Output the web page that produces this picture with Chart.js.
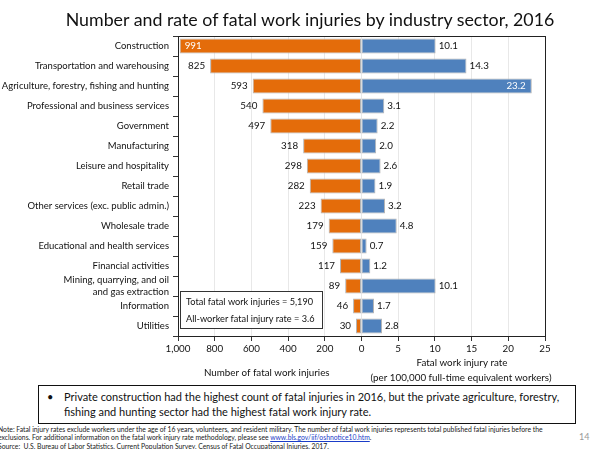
<!DOCTYPE html>
<html>
<head>
<meta charset="utf-8">
<script src="https://cdn.jsdelivr.net/npm/chart.js@4"></script>
<style>
  html, body { margin: 0; padding: 0; background: #fff; }
  body { width: 600px; height: 449px; position: relative; overflow: hidden; font-family: Lato, "Open Sans", sans-serif; color: #111; }
  #wrap { position: absolute; left: 0; top: 0; width: 600px; height: 384px; }
  #title { position: absolute; left: 0; width: 620px; top: 8px; text-align: center; font-size: 17.8px; color: #111; white-space: nowrap; }
  #note { position: absolute; left: 38px; top: 385px; width: 538px; height: 39px; border: 1.5px solid #111; box-sizing: border-box; font-size: 11px; line-height: 15px; padding: 3px 0 0 25px; }
  #note .dot { position: absolute; left: 8px; top: 3px; }
  #foot { position: absolute; left: -2px; top: 425px; font-size: 6.8px; line-height: 8.4px; color: #222; white-space: nowrap; }
  #foot a { color: #1a3cc8; text-decoration: underline; }
  #page { position: absolute; left: 579px; top: 431px; font-size: 9px; color: #999; }
</style>
</head>
<body>
<div id="wrap"><canvas id="chart"></canvas></div>
<div id="title">Number and rate of fatal work injuries by industry sector, 2016</div>
<div id="note"><span class="dot">•</span>Private construction had the highest count of fatal injuries in 2016, but the private agriculture, forestry, fishing and hunting sector had the highest fatal work injury rate.</div>
<div id="foot">Note: Fatal injury rates exclude workers under the age of 16 years, volunteers, and resident military. The number of fatal work injuries represents total published fatal injuries before the<br>exclusions. For additional information on the fatal work injury rate methodology, please see <a>www.bls.gov/iif/oshnotice10.htm</a>.<br>Source:&nbsp; U.S. Bureau of Labor Statistics, Current Population Survey, Census of Fatal Occupational Injuries, 2017.</div>
<div id="page">14</div>
<script>
var sectors = [
	'Construction',
	'Transportation and warehousing',
	'Agriculture, forestry, fishing and hunting',
	'Professional and business services',
	'Government',
	'Manufacturing',
	'Leisure and hospitality',
	'Retail trade',
	'Other services (exc. public admin.)',
	'Wholesale trade',
	'Educational and health services',
	'Financial activities',
	['Mining, quarrying, and oil', 'and gas extraction'],
	'Information',
	'Utilities'
];
var fatalCounts = [991, 825, 593, 540, 497, 318, 298, 282, 223, 179, 159, 117, 89, 46, 30];
var injuryRates = [10.1, 14.3, 23.2, 3.1, 2.2, 2.0, 2.6, 1.9, 3.2, 4.8, 0.7, 1.2, 10.1, 1.7, 2.8];
var totalFatal = '5,190';
var allWorkerRate = 3.6;

var FONT = 'Lato, "Open Sans", sans-serif';
var orange = '#E46C0A';
var blue = '#4F81BD';

// numbers next to the bars, box with totals, axis captions, frame
var extras = {
	id: 'extras',
	afterDatasetsDraw: function(chart) {
		var ctx = chart.ctx;
		var area = chart.chartArea;
		ctx.save();
		ctx.font = '9.8px ' + FONT;
		ctx.textBaseline = 'middle';

		chart.getDatasetMeta(0).data.forEach(function(bar, i) {
			var left = Math.min(bar.x, bar.base);
			if (i == 0) {
				ctx.fillStyle = '#fff';
				ctx.textAlign = 'left';
				ctx.fillText(fatalCounts[i], left + 5, bar.y);
			} else {
				ctx.fillStyle = '#111';
				ctx.textAlign = 'right';
				ctx.fillText(fatalCounts[i], left - 5, bar.y);
			}
		});
		chart.getDatasetMeta(1).data.forEach(function(bar, i) {
			var right = Math.max(bar.x, bar.base);
			var txt = injuryRates[i].toFixed(1);
			if (injuryRates[i] > 20) {
				ctx.fillStyle = '#fff';
				ctx.textAlign = 'right';
				ctx.fillText(txt, right - 6, bar.y);
			} else {
				ctx.fillStyle = '#111';
				ctx.textAlign = 'left';
				ctx.fillText(txt, right + 3, bar.y);
			}
		});

		// frame round the plot
		ctx.strokeStyle = '#222';
		ctx.lineWidth = 1;
		ctx.strokeRect(area.left + 0.5, area.top + 0.5, area.right - area.left, area.bottom - area.top);

		// totals box
		var bx = area.left + 2, by = area.bottom - 45;
		ctx.fillStyle = '#fff';
		ctx.fillRect(bx, by, 142, 37);
		ctx.strokeStyle = '#333';
		ctx.strokeRect(bx + 0.5, by + 0.5, 142, 37);
		ctx.fillStyle = '#111';
		ctx.textAlign = 'left';
		ctx.font = '9.2px ' + FONT;
		ctx.fillText('Total fatal work injuries = ' + totalFatal, bx + 6, by + 11);
		ctx.fillText('All-worker fatal injury rate = ' + allWorkerRate, bx + 6, by + 28);

		// axis captions
		ctx.font = '9.8px ' + FONT;
		var zero = chart.scales.x.getPixelForValue(0);
		ctx.textAlign = 'center';
		ctx.fillText('Number of fatal work injuries', (area.left + zero) / 2 - 3, area.bottom + 37);
		ctx.fillText('Fatal work injury rate', 462, area.bottom + 27);
		ctx.fillText('(per 100,000 full-time equivalent workers)', 461, area.bottom + 42);
		ctx.restore();
	}
};

var ctx = document.getElementById('chart').getContext('2d');

var chart = new Chart(ctx, {
	type: 'bar',
	data: {
		labels: sectors,
		datasets: [{
			label: 'Number of fatal work injuries',
			data: fatalCounts.map(function(v) { return -v; }),
			xAxisID: 'x',
			backgroundColor: orange,
			borderColor: '#b4b4b4',
			borderWidth: 1,
			borderSkipped: false,
			grouped: false,
			categoryPercentage: 0.8,
			barPercentage: 0.95
		}, {
			label: 'Fatal work injury rate',
			data: injuryRates,
			xAxisID: 'xr',
			backgroundColor: blue,
			borderColor: '#b4b4b4',
			borderWidth: 1,
			borderSkipped: false,
			grouped: false,
			categoryPercentage: 0.8,
			barPercentage: 0.95
		}]
	},
	options: {
		indexAxis: 'y',
		responsive: true,
		maintainAspectRatio: false,
		animation: false,
		layout: { padding: { top: 36, right: 55, left: 0, bottom: 0 } },
		plugins: {
			legend: { display: false },
			tooltip: { enabled: false }
		},
		scales: {
			y: {
				afterFit: function(scale) { scale.width = 178; },
				grid: { offset: true, drawOnChartArea: false, tickLength: 5, color: '#333' },
				border: { color: '#222' },
				ticks: { color: '#111', padding: 4, font: { family: FONT, size: 9.5, lineHeight: 1.3 }, autoSkip: false }
			},
			x: {
				min: -1000,
				max: 1000,
				afterFit: function(scale) { scale.height = 48; },
				grid: { color: '#e8e8e8', tickColor: '#333', tickLength: 5 },
				border: { color: '#222' },
				ticks: {
					stepSize: 200,
					maxRotation: 0,
					color: '#111',
					padding: 2,
					font: { family: FONT, size: 9.8 },
					callback: function(v) {
						if (v <= 0) return Math.abs(v).toLocaleString('en-US');
						// right half shows the rate scale at the same spot
						var xr = this.chart.options.scales.xr;
						var r = xr.min + (v - this.min) / (this.max - this.min) * (xr.max - xr.min);
						return String(Math.round(r));
					}
				}
			},
			xr: {
				min: -25,
				max: 25,
				display: false
			}
		}
	},
	plugins: [extras]
});
</script>
</body>
</html>
